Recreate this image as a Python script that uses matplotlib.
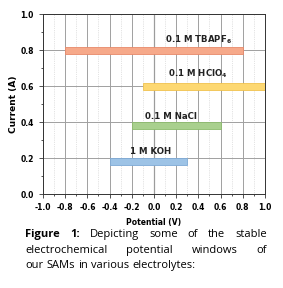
import matplotlib.pyplot as plt
from matplotlib.ticker import MultipleLocator

# stable potential windows (V) per electrolyte
labels = ["0.1 M TBAPF$_\\mathbf{6}$", "0.1 M HClO$_\\mathbf{4}$", "0.1 M NaCl", "1 M KOH"]
v_start = [-0.8, -0.1, -0.2, -0.4]
v_end = [0.8, 1.0, 0.6, 0.3]
level = [0.8, 0.6, 0.383, 0.183]
fills = ["#f6a98a", "#fdd872", "#a9d08e", "#9dc3e6"]
edges = ["#e8896a", "#f0c24e", "#8cbb6c", "#7eaad6"]
label_x = [0.40, 0.40, 0.15, -0.03]
label_y = [0.856, 0.667, 0.43, 0.235]

caption = [["Figure", "1:", "Depicting", "some", "of", "the", "stable"],
           ["electrochemical", "potential", "windows", "of"],
           ["our", "SAMs", "in", "various", "electrolytes:"]]

fig = plt.figure(figsize=(2.83, 2.88), dpi=100)
ax = fig.add_axes([0.152, 0.326, 0.784, 0.625])
for s, e, y, fc, ec in zip(v_start, v_end, level, fills, edges):
    ax.barh(y, e - s, left=s, height=0.038, color=fc, edgecolor=ec, lw=0.6, zorder=3)
for t, x, y in zip(labels, label_x, label_y):
    ax.text(x, y, t, ha="center", va="center", fontsize=6.2, fontweight="bold", color="#222222", zorder=4)

ax.set_xlim(-1.0, 1.0); ax.set_ylim(0.0, 1.0)
ax.xaxis.set_major_locator(MultipleLocator(0.2)); ax.xaxis.set_minor_locator(MultipleLocator(0.1))
ax.yaxis.set_major_locator(MultipleLocator(0.2)); ax.yaxis.set_minor_locator(MultipleLocator(0.1))
ax.grid(which="major", color="#a0a0a0", lw=0.7, zorder=0)
ax.grid(which="minor", axis="x", color="#c8c8c8", lw=0.5, ls=":", zorder=0)
ax.axvline(0, color="#333333", lw=0.8, zorder=1)
ax.tick_params(which="both", labelsize=5.5, width=0.6, color="#333333", direction="out")
ax.tick_params(which="major", length=3); ax.tick_params(which="minor", length=1.5)
ax.set_xticks([round(-1 + 0.2 * i, 1) for i in range(11)])
ax.set_xticklabels([f"{-1 + 0.2 * i:.1f}".replace("-0.0", "0.0") for i in range(11)], fontweight="bold")
ax.set_yticks([0.0, 0.2, 0.4, 0.6, 0.8, 1.0])
ax.set_yticklabels(["0.0", "0.2", "0.4", "0.6", "0.8", "1.0"], fontweight="bold")
for sp in ax.spines.values(): sp.set_linewidth(0.7); sp.set_color("#333333")
ax.set_xlabel("Potential (V)", fontsize=5.5, fontweight="bold", labelpad=4)
ax.set_ylabel("Current (A)", fontsize=6.5, fontweight="bold", labelpad=1.5)

# justified caption
fig.canvas.draw()
r = fig.canvas.get_renderer()
x0, x1 = 25 / 283, 267 / 283
ys = [1 - 237 / 288, 1 - 253 / 288, 1 - 268 / 288]
for li, (words, y) in enumerate(zip(caption, ys)):
    objs = []
    for j, w in enumerate(words):
        bold = li == 0 and j < 2
        objs.append(fig.text(0, y, w, fontsize=8, family="Open Sans", va="baseline",
                             fontweight="bold" if bold else "normal"))
    widths = [o.get_window_extent(r).width / fig.bbox.width for o in objs]
    if li < 2:
        gap = (x1 - x0 - sum(widths)) / (len(words) - 1)
    else:
        gap = 3.2 / 283
    x = x0
    for o, w in zip(objs, widths):
        o.set_x(x); x += w + gap

fig.savefig("out.png", dpi=100)
